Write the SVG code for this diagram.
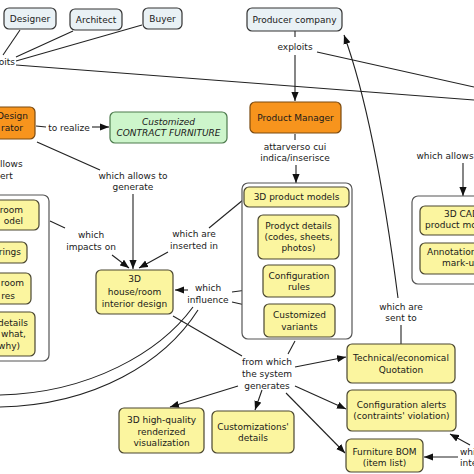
<svg xmlns="http://www.w3.org/2000/svg" width="474" height="474" viewBox="0 0 474 474">
<style>
text{font-family:"DejaVu Sans","Liberation Sans",sans-serif;font-size:9px;fill:#1a1a1a}
.c{text-anchor:middle}
.e{text-anchor:end}
.top rect{fill:#e9f1f5;stroke:#333;stroke-width:1.2}
.y rect{fill:#fbf59f;stroke:#4a4630;stroke-width:1.2}
.o rect{fill:#f7941d;stroke:#7a4a10;stroke-width:1.2}
.g rect{fill:#cdf5cb;stroke:#4c7a4c;stroke-width:1.2}
.box{fill:#fff;stroke:#555;stroke-width:1.2}
.lab text{text-anchor:middle}
#connectors line,#connectors path{stroke:#222;stroke-width:1.1;fill:none}
.a{marker-end:url(#ar)}
.it{font-style:italic}
</style>
<defs>
<marker id="ar" viewBox="0 0 10 8" refX="10" refY="4" markerWidth="9" markerHeight="8" markerUnits="userSpaceOnUse" orient="auto"><path d="M0,0 L10,4 L0,8 z" fill="#111"/></marker>
</defs>
<rect width="474" height="474" fill="#fff"/>

<g id="connectors">
<line x1="20" y1="30" x2="3" y2="55"/>
<line x1="73" y1="31" x2="16" y2="57"/>
<line x1="142" y1="25" x2="16" y2="61"/>
<line x1="16" y1="65" x2="474" y2="100"/>
<line x1="295" y1="31" x2="295" y2="37"/>
<line class="a" x1="295" y1="55" x2="295" y2="101"/>
<line x1="317" y1="52" x2="474" y2="87"/>
<line x1="295" y1="134" x2="295" y2="140"/>
<line class="a" x1="296" y1="165" x2="296" y2="183"/>
<line x1="36" y1="126" x2="46" y2="127"/>
<line class="a" x1="92" y1="127" x2="109" y2="127"/>
<line x1="37" y1="142" x2="100" y2="170"/>
<line class="a" x1="133" y1="194" x2="133" y2="269"/>
<line x1="50" y1="221" x2="65" y2="228"/>
<line class="a" x1="112" y1="255" x2="129" y2="268"/>
<line x1="243" y1="200" x2="209" y2="228"/>
<line class="a" x1="168" y1="252" x2="139" y2="268"/>
<line x1="262" y1="288" x2="232" y2="292"/>
<line x1="263" y1="309" x2="232" y2="302"/>
<line class="a" x1="188" y1="290" x2="175" y2="290"/>
<path d="M193,307 C160,352 90,393 0,395"/>
<path d="M198,310 C165,362 95,405 0,407"/>
<line x1="173" y1="316" x2="242" y2="356"/>
<line x1="295" y1="341" x2="288" y2="354"/>
<line class="a" x1="295" y1="367" x2="346" y2="357"/>
<line class="a" x1="295" y1="386" x2="346" y2="409"/>
<line class="a" x1="286" y1="393" x2="345" y2="453"/>
<line class="a" x1="262" y1="390" x2="255" y2="410"/>
<line class="a" x1="238" y1="386" x2="170" y2="407"/>
<line x1="401" y1="344" x2="401" y2="325"/>
<path class="a" d="M398,298 Q375,120 344,35"/>
<line class="a" x1="458" y1="457" x2="424" y2="457"/>
<line class="a" x1="470" y1="445" x2="450" y2="434"/>
<line class="a" x1="463" y1="163" x2="463" y2="196"/>
</g>

<g class="lab">
<text x="15" y="65" style="text-anchor:end">exploits</text>
<text x="295" y="50">exploits</text>
<text x="295" y="150">attarverso cui</text>
<text x="295" y="161">indica/inserisce</text>
<text x="69" y="131">to realize</text>
<text x="133" y="179">which allows to</text>
<text x="133" y="190">generate</text>
<text x="-6" y="167">which allows</text>
<text x="-6" y="179">to insert</text>
<text x="91" y="238">which</text>
<text x="91" y="250">impacts on</text>
<text x="194" y="237">which are</text>
<text x="194" y="249">inserted in</text>
<text x="208" y="291">which</text>
<text x="208" y="303">influence</text>
<text x="267" y="365">from which</text>
<text x="267" y="377">the system</text>
<text x="267" y="389">generates</text>
<text x="401" y="310">which are</text>
<text x="401" y="321">sent to</text>
<text x="445" y="159">which allows</text>
<text x="460" y="455" style="text-anchor:start">which</text>
<text x="460" y="466" style="text-anchor:start">inte</text>
</g>

<g id="n-designer" class="top"><rect x="4" y="8" width="52" height="21" rx="5"/><text class="c" x="30" y="21.5">Designer</text></g>
<g id="n-architect" class="top"><rect x="70" y="9" width="52" height="21" rx="5"/><text class="c" x="96" y="22.5">Architect</text></g>
<g id="n-buyer" class="top"><rect x="143" y="8" width="39" height="21" rx="5"/><text class="c" x="162.5" y="21.5">Buyer</text></g>
<g id="n-producer" class="top"><rect x="247" y="8" width="95" height="23" rx="5"/><text class="c" x="294.5" y="22.5">Producer company</text></g>

<g id="n-pm" class="o"><rect x="250" y="102" width="91" height="31" rx="5"/><text class="c" x="295.5" y="120.5">Product Manager</text></g>
<g id="n-design" class="o"><rect x="-60" y="107" width="95" height="32" rx="5"/><text class="e" x="28" y="119">Design</text><text class="e" x="23" y="131">rator</text></g>
<g id="n-contract" class="g"><rect x="110" y="112" width="117" height="31" rx="5"/><text class="c it" x="168.5" y="125">Customized</text><text class="c it" x="168.5" y="136">CONTRACT FURNITURE</text></g>

<g id="n-house" class="y"><rect x="96" y="270" width="77" height="44" rx="5"/><text class="c" x="134.5" y="282">3D</text><text class="c" x="134.5" y="295">house/room</text><text class="c" x="134.5" y="307">interior design</text></g>

<g id="n-leftbox"><rect class="box" x="-20" y="195" width="69" height="166" rx="6"/></g>
<g id="n-l1" class="y"><rect x="-40" y="200" width="79" height="30" rx="5"/><text class="e" x="23" y="213">room</text><text class="e" x="23" y="224">odel</text></g>
<g id="n-l2" class="y"><rect x="-40" y="242" width="67" height="21" rx="5"/><text class="e" x="21" y="255">rings</text></g>
<g id="n-l3" class="y"><rect x="-40" y="273" width="71" height="31" rx="5"/><text class="e" x="24" y="286">room</text><text class="e" x="15" y="299">res</text></g>
<g id="n-l4" class="y"><rect x="-40" y="312" width="75" height="44" rx="5"/><text class="e" x="28" y="326">details</text><text class="e" x="26" y="337">what,</text><text class="e" x="20" y="349">why)</text></g>

<g id="n-midbox"><rect class="box" x="242" y="183" width="110" height="156" rx="6"/></g>
<g id="n-models" class="y"><rect x="244" y="187" width="105" height="20" rx="5"/><text class="c" x="296.5" y="200">3D product models</text></g>
<g id="n-details" class="y"><rect x="258" y="215" width="81" height="44" rx="5"/><text class="c" x="298.5" y="229">Prodyct details</text><text class="c" x="298.5" y="240">(codes, sheets,</text><text class="c" x="298.5" y="251">photos)</text></g>
<g id="n-rules" class="y"><rect x="263" y="265" width="72" height="32" rx="5"/><text class="c" x="299" y="279">Configuration</text><text class="c" x="299" y="290">rules</text></g>
<g id="n-variants" class="y"><rect x="264" y="304" width="71" height="33" rx="5"/><text class="c" x="299.5" y="318">Customized</text><text class="c" x="299.5" y="330">variants</text></g>

<g id="n-rightbox"><rect class="box" x="412" y="196" width="80" height="88" rx="6"/></g>
<g id="n-cad" class="y"><rect x="420" y="206" width="70" height="29" rx="5"/><text x="444" y="217">3D CAD</text><text x="425" y="228">product models</text></g>
<g id="n-annot" class="y"><rect x="420" y="243" width="70" height="31" rx="5"/><text x="427" y="255">Annotations</text><text x="442" y="266">mark-up</text></g>

<g id="n-quote" class="y"><rect x="347" y="344" width="108" height="39" rx="5"/><text class="c" x="401" y="361">Technical/economical</text><text class="c" x="401" y="373">Quotation</text></g>
<g id="n-alerts" class="y"><rect x="347" y="390" width="109" height="41" rx="5"/><text class="c" x="401.5" y="408">Configuration alerts</text><text class="c" x="401.5" y="419">(contraints' violation)</text></g>
<g id="n-bom" class="y"><rect x="346" y="439" width="77" height="33" rx="5"/><text class="c" x="384.5" y="455">Furniture BOM</text><text class="c" x="384.5" y="466">(item list)</text></g>
<g id="n-render" class="y"><rect x="119" y="408" width="85" height="45" rx="5"/><text class="c" x="161.5" y="423">3D high-quality</text><text class="c" x="161.5" y="435">renderized</text><text class="c" x="161.5" y="446">visualization</text></g>
<g id="n-custdet" class="y"><rect x="212" y="411" width="82" height="42" rx="5"/><text class="c" x="253" y="430">Customizations'</text><text class="c" x="253" y="441">details</text></g>
</svg>
